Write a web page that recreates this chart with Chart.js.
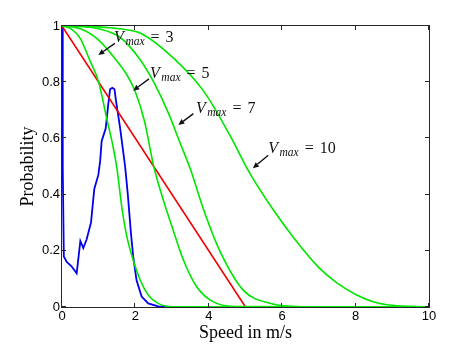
<!DOCTYPE html>
<html>
<head>
<meta charset="utf-8">
<script src="https://cdn.jsdelivr.net/npm/chart.js@4.4.7/dist/chart.umd.min.js"></script>
<style>
  html, body { margin: 0; background: #fff; }
  #wrap { width: 474px; height: 346px; }
</style>
</head>
<body>
<div id="wrap"><canvas id="speedChart" width="474" height="346"></canvas></div>
<script>
// measured speed distribution (blue)
const blueX = [0, 0.02, 0.05, 0.13, 0.26, 0.40, 0.50, 0.58, 0.67, 0.79, 0.88, 0.99, 1.04, 1.08, 1.19, 1.26, 1.31, 1.37, 1.43, 1.47, 1.58, 1.67, 1.72, 1.79, 1.88, 1.94, 2.03, 2.17, 2.35, 2.62, 3.0, 4.0];
const blueY = [1, 0.5, 0.18, 0.16, 0.145, 0.12, 0.235, 0.21, 0.24, 0.30, 0.42, 0.47, 0.52, 0.59, 0.635, 0.72, 0.775, 0.78, 0.775, 0.735, 0.64, 0.55, 0.50, 0.405, 0.26, 0.18, 0.096, 0.037, 0.013, 0.002, 0, 0];

// linear reference (red)
const redX = [0, 5];
const redY = [1, 0];

// model curves (green), one per Vmax
const v3X = [0, 0.25, 0.5, 0.75, 1.0, 1.22, 1.4, 1.5, 1.63, 1.76, 1.94, 2.13, 2.35, 2.62, 3.0, 10];
const v3Y = [1, 0.99, 0.955, 0.88, 0.8, 0.67, 0.565, 0.49, 0.355, 0.255, 0.167, 0.096, 0.043, 0.013, 0.001, 0];
const v5X = [0, 0.5, 1.0, 1.5, 1.75, 2.0, 2.25, 2.5, 2.75, 3.0, 3.3, 3.67, 4.1, 4.7, 10];
const v5Y = [1, 0.99, 0.95, 0.875, 0.83, 0.765, 0.66, 0.5, 0.385, 0.285, 0.17, 0.072, 0.02, 0.002, 0];
const v7X = [0, 0.5, 1.0, 1.58, 2.13, 2.5, 2.9, 3.2, 3.5, 3.85, 4.3, 4.94, 5.67, 6.5, 10];
const v7Y = [1, 0.998, 0.99, 0.96, 0.88, 0.8, 0.69, 0.59, 0.49, 0.35, 0.2, 0.06, 0.013, 0.001, 0];
const v10X = [0, 1.0, 1.58, 2.13, 3.0, 3.85, 4.58, 5.1, 5.76, 6.35, 7.0, 7.5, 8.03, 8.5, 9.0, 10];
const v10Y = [1, 0.997, 0.99, 0.975, 0.89, 0.77, 0.61, 0.48, 0.345, 0.24, 0.14, 0.085, 0.043, 0.018, 0.006, 0];

const xTicks = [0, 2, 4, 6, 8, 10];
const yTicks = [0, 0.2, 0.4, 0.6, 0.8, 1];

// annotation texts and where they sit (data units)
const vmaxLabels = ["3", "5", "7", "10"];
const labelAt = [[1.42, 0.943], [2.40, 0.815], [3.65, 0.69], [5.62, 0.548]];
const arrowFrom = [[1.44, 0.938], [2.37, 0.812], [3.58, 0.688], [5.62, 0.540]];
const arrowTo = [[0.99, 0.897], [1.94, 0.770], [3.17, 0.648], [5.20, 0.494]];

function toPoints(xs, ys) {
  return xs.map((x, i) => ({ x: x, y: ys[i] }));
}

const GREEN = "#00e600";

function greenSet(xs, ys) {
  return {
    data: toPoints(xs, ys),
    borderColor: GREEN,
    borderWidth: 1.6,
    cubicInterpolationMode: "monotone",
    order: 0,
  };
}

const boxPlugin = {
  id: "box",
  afterDatasetsDraw(chart) {
    const { ctx, chartArea: a, scales } = chart;
    ctx.save();
    ctx.strokeStyle = "#262626";
    ctx.lineWidth = 1;
    ctx.strokeRect(Math.round(a.left) - 0.5, Math.round(a.top) - 0.5, Math.round(a.right - a.left) + 1, Math.round(a.bottom - a.top) + 1);
    const len = 4;
    ctx.beginPath();
    xTicks.forEach((v) => {
      const px = Math.round(scales.x.getPixelForValue(v)) - 0.5;
      ctx.moveTo(px, a.bottom);
      ctx.lineTo(px, a.bottom - len);
      ctx.moveTo(px, a.top);
      ctx.lineTo(px, a.top + len);
    });
    yTicks.forEach((v) => {
      const py = Math.round(scales.y.getPixelForValue(v)) - 0.5;
      ctx.moveTo(a.left, py);
      ctx.lineTo(a.left + len, py);
      ctx.moveTo(a.right, py);
      ctx.lineTo(a.right - len, py);
    });
    ctx.stroke();
    ctx.restore();
  },
};

const notePlugin = {
  id: "notes",
  afterDraw(chart) {
    const { ctx, scales } = chart;
    const sx = (v) => scales.x.getPixelForValue(v);
    const sy = (v) => scales.y.getPixelForValue(v);
    ctx.save();
    ctx.fillStyle = "#111";
    ctx.strokeStyle = "#111";
    vmaxLabels.forEach((num, i) => {
      let x = sx(labelAt[i][0]);
      const y = sy(labelAt[i][1]);
      ctx.textBaseline = "alphabetic";
      ctx.font = "italic 16px 'Liberation Serif'";
      ctx.fillText("V", x, y);
      x += ctx.measureText("V").width + 1.5;
      ctx.font = "italic 11.5px 'Liberation Serif'";
      ctx.fillText("max", x, y + 3);
      x += ctx.measureText("max").width + 6;
      ctx.font = "16px 'Liberation Serif'";
      ctx.fillText("=", x, y);
      x += ctx.measureText("=").width + 6;
      ctx.fillText(num, x, y);

      // arrow
      const x0 = sx(arrowFrom[i][0]), y0 = sy(arrowFrom[i][1]);
      const x1 = sx(arrowTo[i][0]), y1 = sy(arrowTo[i][1]);
      const ang = Math.atan2(y1 - y0, x1 - x0);
      const head = 6, half = 2.8;
      const bx = x1 - head * Math.cos(ang), by = y1 - head * Math.sin(ang);
      ctx.lineWidth = 1.4;
      ctx.beginPath();
      ctx.moveTo(x0, y0);
      ctx.lineTo(bx, by);
      ctx.stroke();
      ctx.beginPath();
      ctx.moveTo(x1, y1);
      ctx.lineTo(bx + half * Math.sin(ang), by - half * Math.cos(ang));
      ctx.lineTo(bx - half * Math.sin(ang), by + half * Math.cos(ang));
      ctx.closePath();
      ctx.fill();
    });
    ctx.restore();
  },
};

new Chart(document.getElementById("speedChart"), {
  type: "scatter",
  data: {
    datasets: [
      greenSet(v3X, v3Y),
      greenSet(v5X, v5Y),
      greenSet(v7X, v7Y),
      greenSet(v10X, v10Y),
      { data: toPoints(redX, redY), borderColor: "#ee0000", borderWidth: 1.6, order: 1 },
      { data: toPoints(blueX, blueY), borderColor: "#0000ee", borderWidth: 1.8, order: 2 },
    ],
  },
  options: {
    responsive: false,
    animation: false,
    showLine: true,
    elements: { point: { radius: 0, hoverRadius: 0 }, line: { tension: 0 } },
    layout: { padding: { left: 0, top: 26, right: 45, bottom: 0 } },
    plugins: { legend: { display: false }, tooltip: { enabled: false } },
    scales: {
      x: {
        type: "linear",
        min: 0,
        max: 10,
        afterFit(scale) { scale.height = 39; },
        afterBuildTicks(scale) { scale.ticks = xTicks.map((v) => ({ value: v })); },
        grid: { display: false, drawTicks: false },
        border: { display: false },
        ticks: { color: "#000", padding: 2, font: { family: "'Liberation Sans'", size: 13 } },
        title: {
          display: true,
          text: "Speed in m/s",
          color: "#000",
          padding: { top: 0, bottom: 2 },
          font: { family: "'Liberation Serif'", size: 18 },
        },
      },
      y: {
        type: "linear",
        min: 0,
        max: 1,
        afterFit(scale) { scale.width = 62; },
        afterBuildTicks(scale) { scale.ticks = yTicks.map((v) => ({ value: v })); },
        grid: { display: false, drawTicks: false },
        border: { display: false },
        ticks: {
          color: "#000",
          padding: 2,
          font: { family: "'Liberation Sans'", size: 13 },
          callback: (v) => String(Math.round(v * 10) / 10),
        },
        title: {
          display: true,
          text: "Probability",
          color: "#000",
          padding: { top: 17, bottom: 0 },
          font: { family: "'Liberation Serif'", size: 18 },
        },
      },
    },
  },
  plugins: [boxPlugin, notePlugin],
});
</script>
</body>
</html>
